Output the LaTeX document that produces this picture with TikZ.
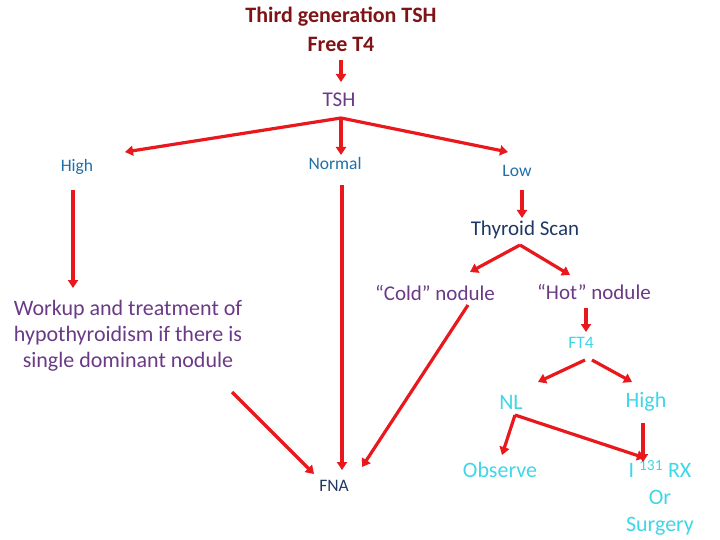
\documentclass[tikz,border=0pt]{standalone}
\usepackage{fontspec}
\setmainfont{Carlito}
\usetikzlibrary{arrows.meta}
\definecolor{dred}{HTML}{7F1416}
\definecolor{purp}{HTML}{6A3A86}
\definecolor{blu}{HTML}{1F6FA8}
\definecolor{cyn}{HTML}{3FD6E6}
\definecolor{navy}{HTML}{1F3864}
\definecolor{arr}{HTML}{E8181C}
\tikzset{ar/.style={draw=arr,line width=3.2pt,-{Triangle[length=8pt,width=10pt]}},
 t/.style={inner sep=0pt,anchor=center}}
\begin{document}
\begin{tikzpicture}[x=1pt,y=-1pt]
\useasboundingbox (0,0) rectangle (720,540);
\node[t,dred,font=\fontsize{22}{26}\selectfont\bfseries] (t1) at (341,17) {Third generation TSH};
\node[t,dred,font=\fontsize{22}{26}\selectfont\bfseries] (t2) at (341,44) {Free T4};
\node[t,purp,font=\fontsize{21}{25}\selectfont] (tsh) at (339,100) {TSH};
\node[t,blu,font=\fontsize{17.5}{20}\selectfont] (hi) at (77,167) {High};
\node[t,blu,font=\fontsize{17.5}{20}\selectfont] (no) at (335,163) {Normal};
\node[t,blu,font=\fontsize{17.5}{20}\selectfont] (lo) at (517,171) {Low};
\node[t,navy,font=\fontsize{21}{25}\selectfont] (ts) at (525,230) {Thyroid Scan};
\node[t,purp,font=\fontsize{21}{25}\selectfont] (cold) at (435,293) {“Cold” nodule};
\node[t,purp,font=\fontsize{21}{25}\selectfont] (hot) at (594,292) {“Hot” nodule};
\node[t,purp,font=\fontsize{22}{26}\selectfont,align=center] (wk) at (128,336) {Workup and treatment of\\hypothyroidism if there is\\single dominant nodule};
\node[t,cyn,font=\fontsize{17.5}{20}\selectfont] (ft4) at (581,343) {FT4};
\node[t,cyn,font=\fontsize{22}{26}\selectfont] (nl) at (511,402) {NL};
\node[t,cyn,font=\fontsize{22}{26}\selectfont] (hi2) at (646,402) {High};
\node[t,cyn,font=\fontsize{22}{26}\selectfont] (obs) at (500,470) {Observe};
\node[t,cyn,font=\fontsize{22}{27}\selectfont,align=center] (rx) at (660,498) {I $^{\mathrm{131}}$ RX\\Or\\Surgery};
\node[t,navy,font=\fontsize{17.5}{20}\selectfont] (fna) at (334,486) {FNA};
\coordinate (b1) at (341,118);
\coordinate (b2) at (520,245);
\coordinate (b4) at (515,415);
\draw[ar] (341,60) -- (341,82);
\draw[ar] (b1) -- (125,152);
\draw[ar] (b1) -- (341,155);
\draw[ar] (b1) -- (508,152);
\draw[ar] (73,190) -- (73,288);
\draw[ar] (342,185) -- (342,470);
\draw[ar] (522,190) -- (522,218);
\draw[ar] (b2) -- (470,272);
\draw[ar] (b2) -- (570,275);
\draw[ar] (586,308) -- (586,332);
\draw[ar] (585,360) -- (538,382);
\draw[ar] (592,360) -- (632,382);
\draw[ar] (b4) -- (502,455);
\draw[ar] (b4) -- (645,458);
\draw[ar] (643,423) -- (643,462);
\draw[ar] (232,392) -- (314,474);
\draw[ar] (468,305) -- (362,467);
\end{tikzpicture}
\end{document}
